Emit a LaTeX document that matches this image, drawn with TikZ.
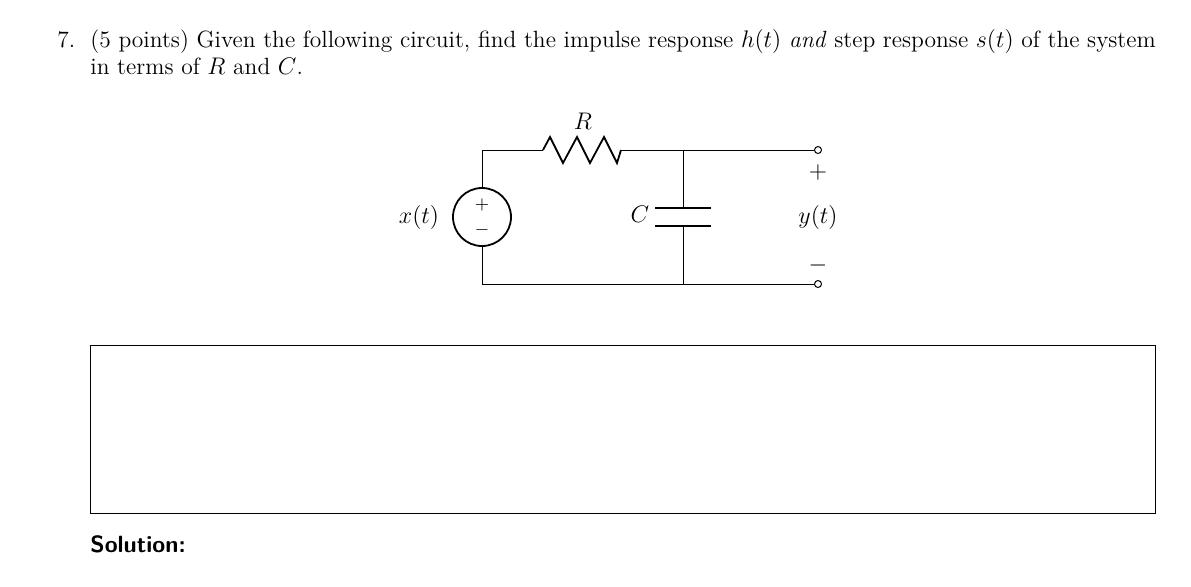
\documentclass[tikz,border=0pt]{standalone}
\begin{document}
\begin{tikzpicture}[x=0.5pt,y=-0.5pt,
  wire/.style={line width=0.5pt},
  txt/.style={inner sep=0pt,anchor=base west,font=\fontsize{11.75}{14.4}\selectfont},
  lbl/.style={inner sep=0pt,font=\fontsize{11.75}{14.4}\selectfont},
  term/.style={circle,draw,line width=0.5pt,fill=white,inner sep=0pt,minimum size=3.5pt}]
\useasboundingbox (0,0) rectangle (1191,586);
\node[txt] (num) at (57,47) {7.};
\node[txt] (l1) at (90,47) {(5 points) Given the following circuit, find the impulse response $h(t)$ \emph{and} step response $s(t)$ of the system};
\node[txt] (l2) at (90,74) {in terms of $R$ and $C$.};
% circuit
\coordinate (tl) at (482,150);
\coordinate (bl) at (482,284);
\coordinate (r1) at (543,150);
\coordinate (r2) at (621,150);
\coordinate (ct) at (683,150);
\coordinate (cb) at (683,284);
\node[circle,draw,line width=0.9pt,minimum size=29pt,inner sep=0pt] (src) at (482,217) {};
\node[inner sep=0pt,font=\fontsize{9.5}{11}\selectfont] (sp) at (482,205) {$+$};
\node[inner sep=0pt,font=\fontsize{9.5}{11}\selectfont] (sm) at (482,230) {$-$};
\node[term] (ot) at (818,150) {};
\node[term] (ob) at (818,284) {};
\draw[wire] (src.north) -- (tl) -- (r1);
\draw[line width=0.9pt,line join=miter] (r1) -- (550,137) -- (563,163) -- (577,137) -- (590,163) -- (604,137) -- (617,163) -- (r2);
\draw[wire] (r2) -- (ct) -- (ot);
\draw[wire] (src.south) -- (bl) -- (cb) -- (ob);
\draw[wire] (ct) -- (683,208);
\draw[wire] (683,226) -- (cb);
\draw[line width=1pt] (655,208) -- (711,208);
\draw[line width=1pt] (655,226) -- (711,226);
\node[lbl] (R) at (583,121) {$R$};
\node[lbl] (C) at (640,214) {$C$};
\node[lbl] (x) at (419,217) {$x(t)$};
\node[lbl] (y) at (818,217) {$y(t)$};
\node[lbl] (p) at (818,172) {$+$};
\node[lbl] (m) at (818,265) {$-$};
% answer box
\node[draw,line width=0.5pt,minimum width=532.5pt,minimum height=84pt,inner sep=0pt,anchor=north west] (box) at (90,345) {};
\node[inner sep=0pt,anchor=base west,font=\fontsize{11.75}{14.4}\sffamily\bfseries] (sol) at (90,552) {Solution:};
\end{tikzpicture}
\end{document}
